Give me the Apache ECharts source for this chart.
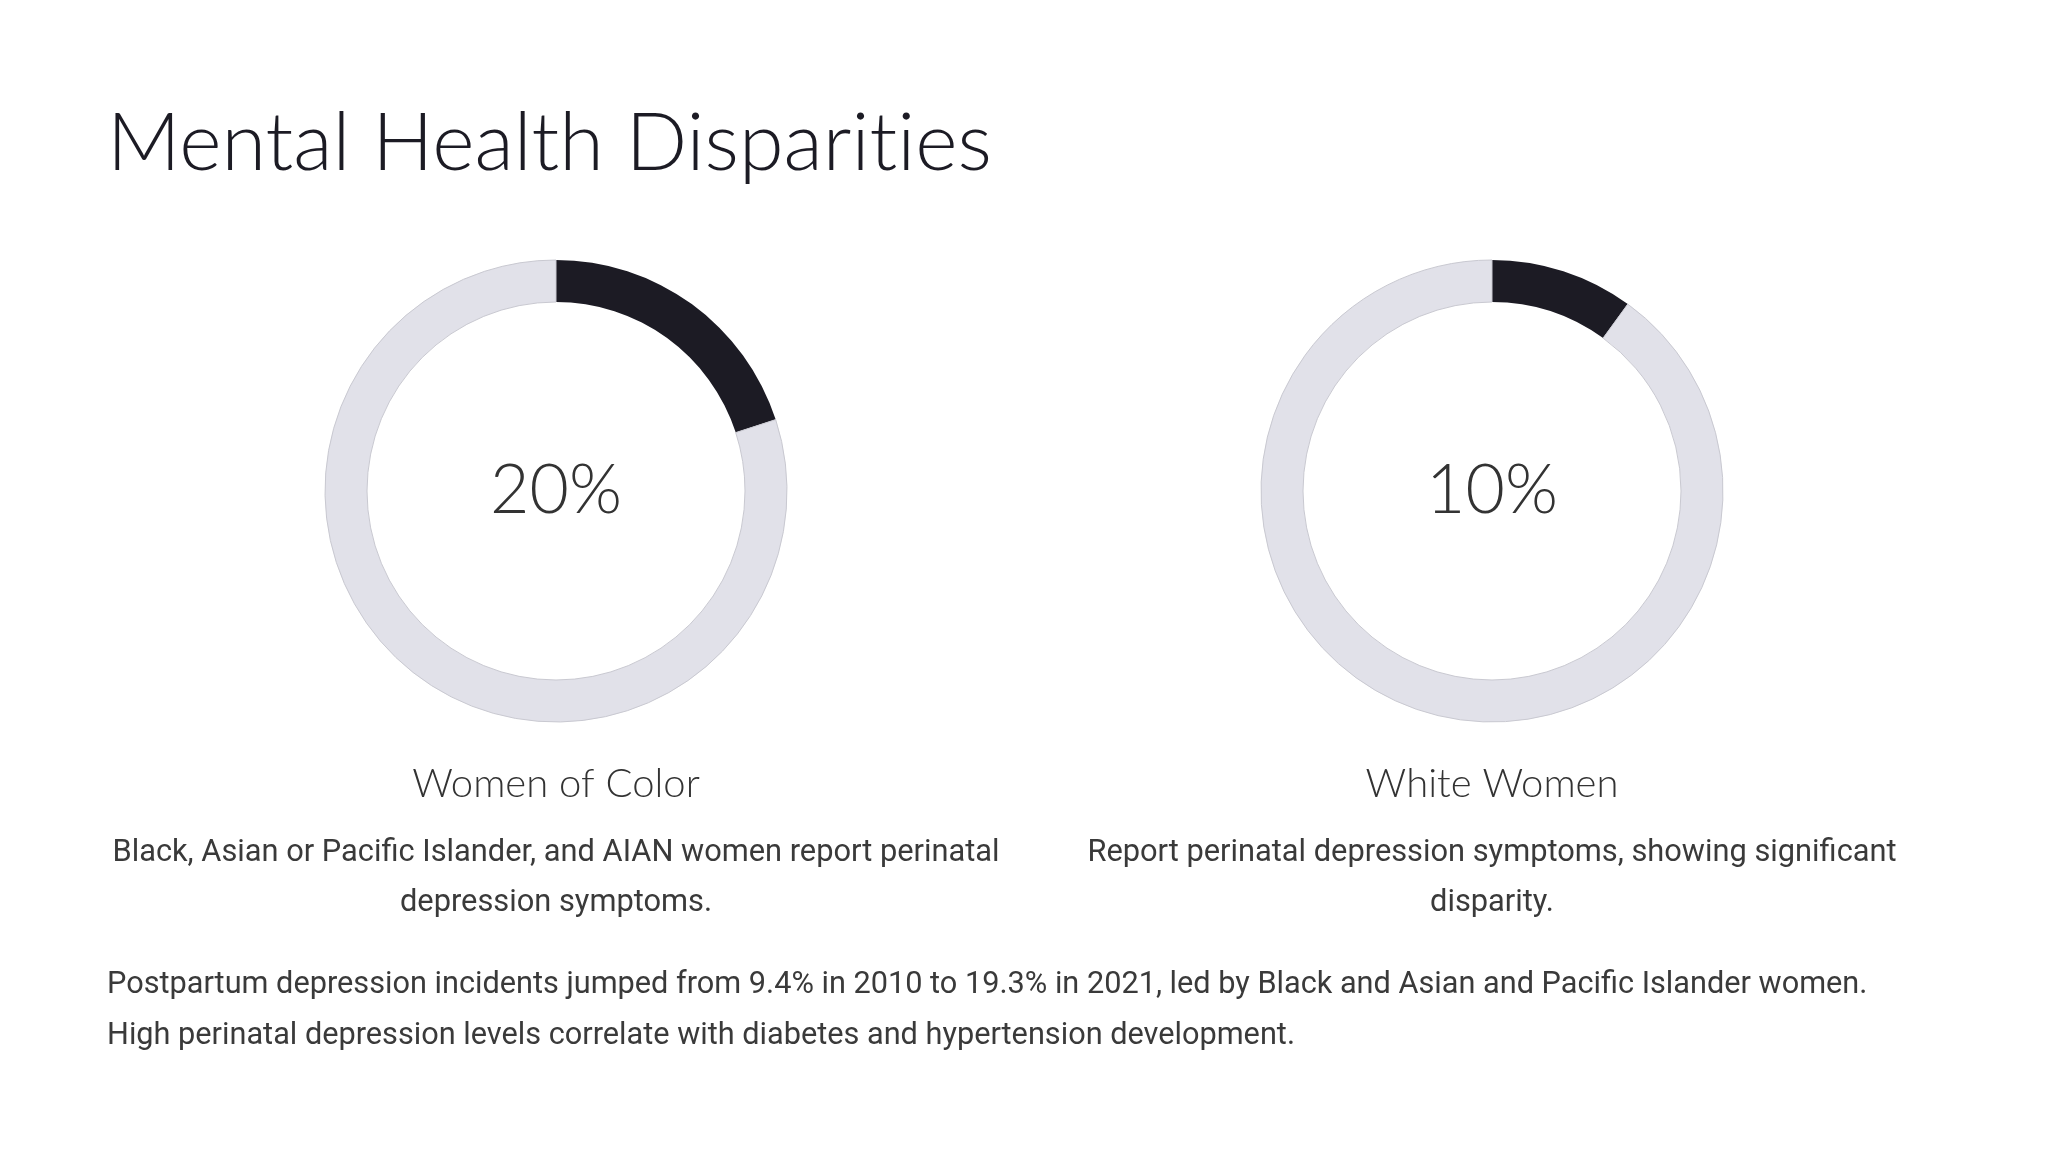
<!DOCTYPE html>
<html>
<head>
<meta charset="utf-8">
<script src="https://cdn.jsdelivr.net/npm/echarts@6/dist/echarts.min.js"></script>
<style>
  html, body { margin: 0; padding: 0; background: #fff; }
  #chart { width: 2048px; height: 1154px; }
</style>
</head>
<body>
<div id="chart"></div>
<script>
// ZWNJ keeps Lato from joining "ti" into a ligature
const pageTitle = "Mental Health Disparit\u200Cies";
const groups = ["Women of Color", "White Women"];
const rates = [20, 10];
const descriptions = [
  "Black, Asian or Pacific Islander, and AIAN women report perinatal\ndepression symptoms.",
  "Report perinatal depression symptoms, showing significant\ndisparity.",
];
const footnote =
  "Postpartum depression incidents jumped from 9.4% in 2010 to 19.3% in 2021, led by Black and Asian and Pacific Islander women.\n" +
  "High perinatal depression levels correlate with diabetes and hypertension development.";

const centers = [[556, 491], [1492, 491]];
const headFont = "Lato, 'Open Sans', sans-serif";
const bodyFont = "Roboto, 'Noto Sans', sans-serif";

const chart = echarts.init(document.getElementById("chart"));

const series = rates.map((rate, i) => ({
  type: "pie",
  center: centers[i],
  radius: [189, 231],
  startAngle: 90,
  clockwise: true,
  silent: true,
  label: {
    show: true,
    position: "center",
    formatter: () => `${rate}%`,
    fontFamily: headFont,
    fontWeight: 300,
    fontSize: 68,
    color: "#333",
  },
  labelLine: { show: false },
  emphasis: { disabled: true },
  data: [
    { value: rate, name: groups[i], itemStyle: { color: "#1c1b24" } },
    {
      value: 100 - rate,
      name: "rest",
      label: { show: false },
      itemStyle: { color: "#e1e1e9", borderColor: "#c9c9d1", borderWidth: 1 },
    },
  ],
}));

const texts = [
  {
    type: "text",
    x: 107,
    y: 144,
    style: {
      text: pageTitle,
      fontFamily: headFont,
      fontWeight: 300,
      fontSize: 81,
      fill: "#1c1b24",
      align: "left",
      verticalAlign: "middle",
    },
  },
];

groups.forEach((name, i) => {
  texts.push({
    type: "text",
    x: centers[i][0],
    y: 784,
    style: {
      text: name,
      fontFamily: headFont,
      fontWeight: 300,
      fontSize: 40,
      fill: "#333",
      align: "center",
      verticalAlign: "middle",
    },
  });
  texts.push({
    type: "text",
    x: centers[i][0],
    y: 878,
    style: {
      text: descriptions[i],
      fontFamily: bodyFont,
      fontSize: 30.8,
      lineHeight: 50,
      fill: "#3a3a3a",
      align: "center",
      verticalAlign: "middle",
    },
  });
});

texts.push({
  type: "text",
  x: 107,
  y: 1011,
  style: {
    text: footnote,
    fontFamily: bodyFont,
    fontSize: 30.7,
    lineHeight: 51,
    fill: "#3a3a3a",
    align: "left",
    verticalAlign: "middle",
  },
});

chart.setOption({
  backgroundColor: "#ffffff",
  animation: false,
  series,
  graphic: texts,
});

window.addEventListener("resize", () => chart.resize());
</script>
</body>
</html>
